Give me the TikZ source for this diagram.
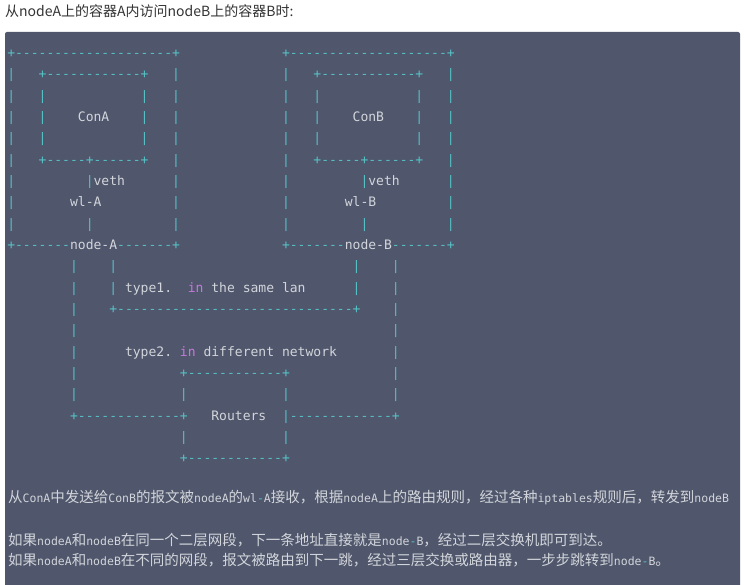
\documentclass[tikz,border=0pt]{standalone}
\usepackage{fontspec}
\newfontfamily\mono{DejaVu Sans Mono}
\newfontfamily\cjk{Noto Sans CJK SC}
\definecolor{bg}{HTML}{50566B}
\definecolor{cy}{HTML}{56C2C6}
\definecolor{tx}{HTML}{D2D5DB}
\definecolor{pk}{HTML}{C678DD}
\definecolor{hd}{HTML}{333333}
\newcommand\dd[1]{\foreach\ii in {1,...,#1}{-}}
\newcommand\A[3]{\node[seg] at ({7.07+7.85*#2},{-57.5-21.33*(#1-1)}) {#3};}
\newcommand\Tx[3]{\node[seg,text=tx] at ({7.07+7.85*#2},{-57.5-21.33*(#1-1)}) {#3};}
\newcommand\m[1]{{\mono\fontsize{11.5}{12}\selectfont #1}}
\newcommand\hy{{\color{cy}-}}
\begin{document}
\begin{tikzpicture}[x=1pt,y=1pt,
  seg/.style={anchor=base west,inner sep=0pt,text=cy,font=\mono\fontsize{13.04}{14}\selectfont},
  para/.style={anchor=base west,inner sep=0pt,text=tx,font=\cjk\fontsize{14.5}{16}\selectfont}]
\useasboundingbox (0,0) rectangle (744,-585);
\node[anchor=base west,inner sep=0pt,text=hd,font=\cjk\fontsize{14}{16}\selectfont] (hdr) at (5,-17) {从nodeA上的容器A内访问nodeB上的容器B时:};
\fill[bg,rounded corners=2pt] (5,-32) rectangle (740,-590);
% row 1
\A{1}{0}{+\dd{20}+}\A{1}{35}{+\dd{20}+}
% row 2
\A{2}{0}{|}\A{2}{4}{+\dd{12}+}\A{2}{21}{|}\A{2}{35}{|}\A{2}{39}{+\dd{12}+}\A{2}{56}{|}
% rows 3-5
\foreach \r in {3,4,5}{\A{\r}{0}{|}\A{\r}{4}{|}\A{\r}{17}{|}\A{\r}{21}{|}\A{\r}{35}{|}\A{\r}{39}{|}\A{\r}{52}{|}\A{\r}{56}{|}}
\Tx{4}{9}{ConA}\Tx{4}{44}{ConB}
% row 6
\A{6}{0}{|}\A{6}{4}{+\dd{5}+\dd{6}+}\A{6}{21}{|}\A{6}{35}{|}\A{6}{39}{+\dd{5}+\dd{6}+}\A{6}{56}{|}
% row 7
\A{7}{0}{|}\A{7}{10}{|}\Tx{7}{11}{veth}\A{7}{21}{|}\A{7}{35}{|}\A{7}{45}{|}\Tx{7}{46}{veth}\A{7}{56}{|}
% row 8
\A{8}{0}{|}\Tx{8}{8}{wl-A}\A{8}{21}{|}\A{8}{35}{|}\Tx{8}{43}{wl-B}\A{8}{56}{|}
% row 9
\A{9}{0}{|}\A{9}{10}{|}\A{9}{21}{|}\A{9}{35}{|}\A{9}{45}{|}\A{9}{56}{|}
% row 10
\A{10}{0}{+\dd{7}}\Tx{10}{8}{node-A}\A{10}{14}{\dd{7}+}
\A{10}{35}{+\dd{7}}\Tx{10}{43}{node-B}\A{10}{49}{\dd{7}+}
% row 11
\A{11}{8}{|}\A{11}{13}{|}\A{11}{44}{|}\A{11}{49}{|}
% row 12
\A{12}{8}{|}\A{12}{13}{|}\Tx{12}{15}{type1.}\node[seg,text=pk] at ({7.07+7.85*23},{-57.5-21.33*11}) {in};\Tx{12}{26}{the same lan}\A{12}{44}{|}\A{12}{49}{|}
% row 13
\A{13}{8}{|}\A{13}{13}{+\dd{30}+}\A{13}{49}{|}
% row 14
\A{14}{8}{|}\A{14}{49}{|}
% row 15
\A{15}{8}{|}\Tx{15}{15}{type2.}\node[seg,text=pk] at ({7.07+7.85*22},{-57.5-21.33*14}) {in};\Tx{15}{25}{different network}\A{15}{49}{|}
% row 16
\A{16}{8}{|}\A{16}{22}{+\dd{12}+}\A{16}{49}{|}
% row 17
\A{17}{8}{|}\A{17}{22}{|}\A{17}{35}{|}\A{17}{49}{|}
% row 18
\A{18}{8}{+\dd{13}+}\Tx{18}{26}{Routers}\A{18}{35}{|\dd{13}+}
% row 19
\A{19}{22}{|}\A{19}{35}{|}
% row 20
\A{20}{22}{+\dd{12}+}
% paragraph text
\begin{scope}
\clip (5,-32) rectangle (740,-585);
\node[para] (p1) at (8,-502) {从\m{ConA}中发送给\m{ConB}的报文被\m{nodeA}的\m{wl\hy A}接收，根据\m{nodeA}上的路由规则，经过各种\m{iptables}规则后，转发到\m{nodeB}};
\end{scope}
\node[para] (p2) at (8,-545) {如果\m{nodeA}和\m{nodeB}在同一个二层网段，下一条地址直接就是\m{node\hy B}，经过二层交换机即可到达。};
\node[para] (p3) at (8,-565) {如果\m{nodeA}和\m{nodeB}在不同的网段，报文被路由到下一跳，经过三层交换或路由器，一步步跳转到\m{node\hy B}。};
\end{tikzpicture}
\end{document}
